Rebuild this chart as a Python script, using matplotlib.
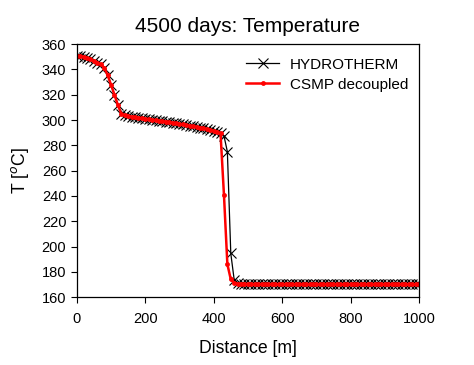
import numpy as np
import matplotlib
matplotlib.use('Agg')
import matplotlib.pyplot as plt

plt.rcParams['font.family'] = ['Liberation Sans', 'DejaVu Sans']

# Distancia [m], cada 10 m
distance = [0, 10, 20, 30, 40, 50, 60, 70, 80, 90,
            100, 110, 120, 130, 140, 150, 160, 170, 180, 190,
            200, 210, 220, 230, 240, 250, 260, 270, 280, 290,
            300, 310, 320, 330, 340, 350, 360, 370, 380, 390,
            400, 410, 420, 430, 440, 450, 460, 470, 480, 490,
            500, 510, 520, 530, 540, 550, 560, 570, 580, 590,
            600, 610, 620, 630, 640, 650, 660, 670, 680, 690,
            700, 710, 720, 730, 740, 750, 760, 770, 780, 790,
            800, 810, 820, 830, 840, 850, 860, 870, 880, 890,
            900, 910, 920, 930, 940, 950, 960, 970, 980, 990,
            1000]

# Parte comun (0 - 410 m)
common = [351.0, 350.5, 349.8, 349.0, 348.0, 346.8, 345.5, 344.0, 341.5, 335.5,
          328.0, 320.0, 312.0, 305.0, 303.6, 303.1, 302.7, 302.3, 301.9, 301.5,
          301.1, 300.7, 300.3, 299.9, 299.5, 299.1, 298.7, 298.3, 297.9, 297.5,
          297.0, 296.5, 296.0, 295.5, 295.0, 294.5, 294.0, 293.4, 292.8, 292.2,
          291.5, 290.6]

hydro_step = [289.5, 287.5, 275.0, 194.5, 173.5, 171.2, 170.6]
csmp_step = [289.5, 241.0, 186.0, 174.0, 171.2, 170.6, 170.4]

plateau = [170.4, 170.3, 170.3, 170.2, 170.2, 170.2, 170.1, 170.1, 170.1, 170.1,
           170.1, 170.0, 170.0, 170.0, 170.0, 170.0, 170.0, 170.0, 170.0, 170.0,
           170.0, 170.0, 170.0, 170.0, 170.0, 170.0, 170.0, 170.0, 170.0, 170.0,
           170.0, 170.0, 170.0, 170.0, 170.0, 170.0, 170.0, 170.0, 170.0, 170.0,
           170.0, 170.0, 170.0, 170.0, 170.0, 170.0, 170.0, 170.0, 170.0, 170.0,
           170.0, 170.0]

hydrotherm = common + hydro_step + plateau
csmp = common + csmp_step + plateau

fig = plt.figure(figsize=(4.74, 3.65), dpi=100)
ax = fig.add_axes([0.162, 0.186, 0.722, 0.693])

ax.plot(distance, hydrotherm, color='black', lw=0.9, marker='x',
        markersize=6.5, markeredgewidth=0.8, label='HYDROTHERM')
ax.plot(distance, csmp, color='red', lw=1.8, marker='o',
        markersize=3.5, markeredgewidth=0, label='CSMP decoupled')

ax.set_xlim(0, 1000)
ax.set_ylim(160, 360)
ax.set_xticks([0, 200, 400, 600, 800, 1000])
ax.set_yticks(np.arange(160, 361, 20))
ax.tick_params(direction='out', length=4, width=0.8, labelsize=10.5,
               top=False, right=False)
ax.tick_params(axis='x', pad=7)
for s in ax.spines.values():
    s.set_linewidth(0.9)

ax.set_xlabel('Distance [m]', fontsize=12.7, labelpad=10)
ax.set_ylabel('T [$^{o}$C]', fontsize=12.7, labelpad=8)
ax.set_title('4500 days: Temperature', fontsize=15, pad=9)

ax.legend(loc='upper right', frameon=False, fontsize=11,
          handlelength=2.2, borderaxespad=0.4, labelspacing=0.4,
          handletextpad=0.7, bbox_to_anchor=(1.005, 0.995))

fig.savefig('out.png', dpi=100)
